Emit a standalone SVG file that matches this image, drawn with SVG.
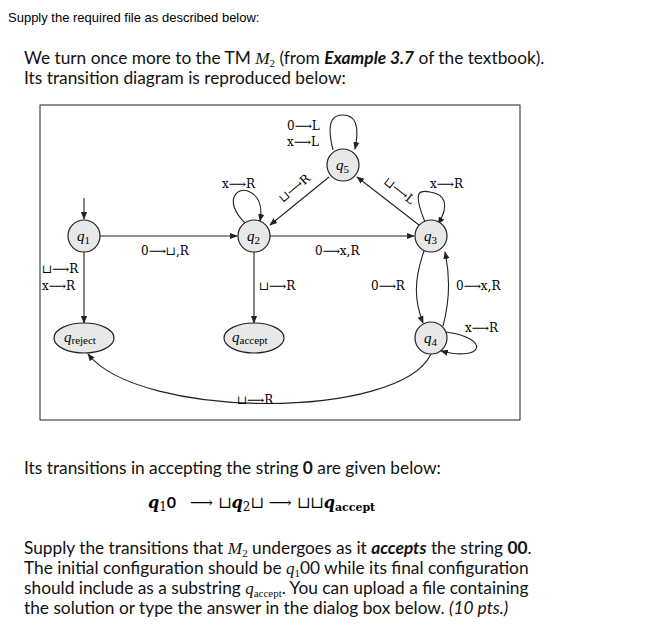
<svg xmlns="http://www.w3.org/2000/svg" width="651" height="640" viewBox="0 0 651 640">
<style>
.h{font-family:"Liberation Sans",Arial,sans-serif;font-size:13px}
.p{font-family:"Lato","Open Sans",sans-serif;font-size:17.3px;fill:#111}
.s{fill:#e8e8e8;stroke:#222;stroke-width:1.2}
.q{font-family:"Liberation Serif",serif;font-style:italic;font-size:15px}
.sub{font-family:"Liberation Serif",serif;font-style:normal;font-size:11px}
.l{font-family:"DejaVu Serif","DejaVu Sans",serif;font-size:12px}
.e{fill:none;stroke:#222;stroke-width:1.1}
</style>
<defs><marker id="a" viewBox="0 0 10 10" refX="9" refY="5" markerWidth="7" markerHeight="7" orient="auto"><path d="M0,1 L10,5 L0,9 z" fill="#222"/></marker></defs>
<rect width="651" height="640" fill="#fff"/>
<text class="h" x="8" y="22">Supply the required file as described below:</text>
<text class="p" x="24" y="64">We turn once more to the TM <tspan font-family="Liberation Serif" font-style="italic">M</tspan><tspan font-family="Liberation Serif" font-size="11" dy="3">2</tspan><tspan dy="-3"> (from </tspan><tspan font-weight="bold" font-style="italic">Example 3.7</tspan> of the textbook).</text>
<text class="p" x="24" y="84">Its transition diagram is reproduced below:</text>
<rect x="40" y="105" width="480" height="315" fill="none" stroke="#222" stroke-width="1"/>
<g id="connectors">
<path class="e" d="M84,198 L84,219" marker-end="url(#a)"/>
<path class="e" d="M100,236 L237,236" marker-end="url(#a)"/>
<path class="e" d="M270,236 L414,236" marker-end="url(#a)"/>
<path class="e" d="M84,252 L84,323" marker-end="url(#a)"/>
<path class="e" d="M254,252 L254,323" stroke="#777" marker-end="url(#a)"/>
<path class="e" d="M329,177 L270,225" marker-end="url(#a)"/>
<path class="e" d="M419,225 L357,177" marker-end="url(#a)"/>
<path class="e" d="M245,223 C222,200 238,185 250,192 C262,198 262,210 260,221" marker-end="url(#a)"/>
<path class="e" d="M425,222 C412,190 420,190 430,192 C445,194 450,205 438,224" marker-end="url(#a)"/>
<path class="e" d="M333,150 C325,118 335,115 343,115 C355,115 360,125 355,149" marker-end="url(#a)"/>
<path class="e" d="M424,251 C414,280 414,300 423,323" marker-end="url(#a)"/>
<path class="e" d="M443,326 C450,300 450,275 445,252" marker-end="url(#a)"/>
<path class="e" d="M446,332 C490,338 485,362 441,351" marker-end="url(#a)"/>
<path class="e" d="M431,354 C400,420 140,420 88,354" marker-end="url(#a)"/>
</g>
<g id="labels" class="l">
<text x="141" y="255">0⟶⊔,R</text>
<text x="315" y="255">0⟶x,R</text>
<text x="42" y="273">⊔⟶R</text>
<text x="42" y="290">x⟶R</text>
<text x="259" y="290">⊔⟶R</text>
<text x="371" y="290">0⟶R</text>
<text x="456" y="290">0⟶x,R</text>
<text x="222" y="188">x⟶R</text>
<text x="430" y="188">x⟶R</text>
<text x="465" y="332">x⟶R</text>
<text x="287" y="130">0⟶L</text>
<text x="287" y="146">x⟶L</text>
<text x="237" y="404">⊔⟶R</text>
<text transform="translate(283,203) rotate(-40)">⊔⟶R</text>
<text transform="translate(383,183) rotate(38)">⊔⟶L</text>
</g>
<g id="q1"><circle class="s" cx="84" cy="236" r="16"/><text class="q" x="77" y="241">q<tspan class="sub" dy="3">1</tspan></text></g>
<g id="q2"><circle class="s" cx="254" cy="236" r="16"/><text class="q" x="247" y="241">q<tspan class="sub" dy="3">2</tspan></text></g>
<g id="q3"><circle class="s" cx="431" cy="236" r="16"/><text class="q" x="424" y="241">q<tspan class="sub" dy="3">3</tspan></text></g>
<g id="q5"><circle class="s" cx="343" cy="165" r="16"/><text class="q" x="336" y="170">q<tspan class="sub" dy="3">5</tspan></text></g>
<g id="q4"><circle class="s" cx="431" cy="338" r="16"/><text class="q" x="424" y="343">q<tspan class="sub" dy="3">4</tspan></text></g>
<g id="qreject"><ellipse class="s" cx="84" cy="338" rx="30" ry="15"/><text class="q" x="64" y="342">q<tspan class="sub" dy="2">reject</tspan></text></g>
<g id="qaccept"><ellipse class="s" cx="254" cy="338" rx="30" ry="15"/><text class="q" x="232" y="342">q<tspan class="sub" dy="2">accept</tspan></text></g>
<text class="p" x="24" y="474">Its transitions in accepting the string <tspan font-weight="bold">0</tspan> are given below:</text>
<text x="148" y="508" font-family="DejaVu Serif" font-size="16"><tspan font-style="italic" font-weight="bold">q</tspan><tspan font-size="12" dy="3">1</tspan><tspan dy="-3" font-family="Lato" font-weight="bold">0</tspan><tspan dx="14">⟶ ⊔</tspan><tspan font-style="italic" font-weight="bold">q</tspan><tspan font-size="12" dy="3">2</tspan><tspan dy="-3">⊔ ⟶ ⊔⊔</tspan><tspan font-style="italic" font-weight="bold">q</tspan><tspan font-size="11" dy="3" font-weight="bold">accept</tspan></text>
<text class="p" x="24" y="554">Supply the transitions that <tspan font-family="Liberation Serif" font-style="italic">M</tspan><tspan font-family="Liberation Serif" font-size="11" dy="3">2</tspan><tspan dy="-3"> undergoes as it </tspan><tspan font-weight="bold" font-style="italic">accepts</tspan> the string <tspan font-weight="bold">00</tspan>.</text>
<text class="p" x="24" y="574">The initial configuration should be <tspan font-family="Liberation Serif" font-style="italic" font-size="17">q</tspan><tspan font-family="Liberation Serif" font-size="11" dy="3">1</tspan><tspan dy="-3">00</tspan> while its final configuration</text>
<text class="p" x="24" y="594">should include as a substring <tspan font-family="Liberation Serif" font-style="italic" font-size="17">q</tspan><tspan font-family="Liberation Serif" font-size="11" dy="3">accept</tspan><tspan dy="-3">.  You can upload a file containing</tspan></text>
<text class="p" x="24" y="614">the solution or type the answer in the dialog box below.  <tspan font-style="italic">(10 pts.)</tspan></text>
</svg>
